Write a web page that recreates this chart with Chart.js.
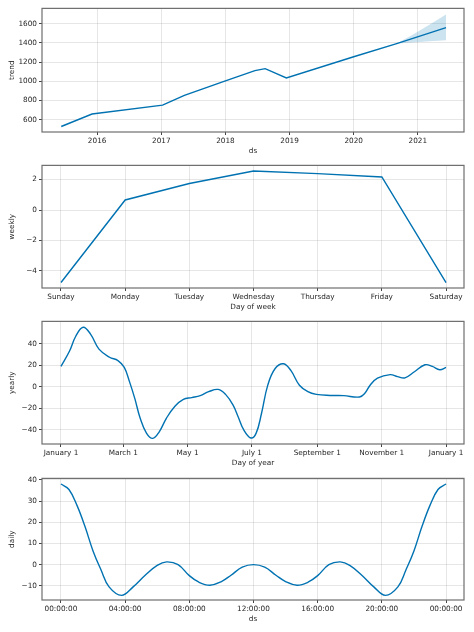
<!DOCTYPE html>
<html>
<head>
<meta charset="utf-8">
<script src="https://cdn.jsdelivr.net/npm/chart.js@4/dist/chart.umd.min.js"></script>
<style>
  html, body { margin: 0; padding: 0; background: #fff; }
  #page { position: relative; width: 474px; height: 632px; }
  canvas { position: absolute; left: 0; }
</style>
</head>
<body>
<div id="page">
  <canvas id="trend-chart" width="474" height="160" style="top:2px"></canvas>
  <canvas id="weekly-chart" width="474" height="159" style="top:159px"></canvas>
  <canvas id="yearly-chart" width="474" height="159" style="top:315px"></canvas>
  <canvas id="daily-chart" width="474" height="158" style="top:472px"></canvas>
</div>
<script>
// trend (x in fractional years)
const trendYears = [2015.44, 2015.92, 2017.02, 2017.36, 2018.0, 2018.46, 2018.62, 2018.95, 2020.0, 2020.67, 2021.44]
const trendValues = [530, 660, 752, 855, 1004, 1111, 1132, 1035, 1256, 1393, 1558]
const bandYears = [2020.67, 2020.92, 2021.18, 2021.44]
const bandUpper = [1393, 1485, 1590, 1695]
const bandLower = [1393, 1405, 1417, 1428]
const trendYearTicks = [2016, 2017, 2018, 2019, 2020, 2021]
const trendYearLabels = ['2016', '2017', '2018', '2019', '2020', '2021']
const trendTicks = [600, 800, 1000, 1200, 1400, 1600]

// weekly
const weekDays = ['Sunday', 'Monday', 'Tuesday', 'Wednesday', 'Thursday', 'Friday', 'Saturday']
const weeklyValues = [-4.76, 0.66, 1.74, 2.56, 2.39, 2.17, -4.76]
const weeklyTicks = [-4, -2, 0, 2]

// yearly (x = day of year)
const yearDays = [0, 8, 14, 21, 28, 36, 46, 54, 60, 65, 70, 75, 81, 87, 93, 100, 108, 116, 124, 132,
  140, 149, 156, 163, 168, 173, 180, 185, 190, 196, 203, 211, 218, 226, 234, 242, 255, 268, 283, 288,
  293, 300, 312, 319, 326, 335, 345, 352, 359, 365]
const yearlyValues = [19, 33, 47, 55.3, 49, 35, 27.5, 24.4, 18, 4.6, -11, -29, -43, -47.9, -42, -29, -18, -11.6, -10, -8.2,
  -4.5, -2.4, -7, -16.8, -28, -39.6, -47.5, -43, -25, 1.6, 17, 21.4, 15, 1.5, -4.5, -7, -8, -8.2, -9.4, -6,
  1.5, 8, 11.3, 9.5, 8.3, 14, 20.5, 19, 15.9, 18]
const monthTicks = [0, 59, 120, 181, 243, 304, 365]
const monthLabels = ['January 1', 'March 1', 'May 1', 'July 1', 'September 1', 'November 1', 'January 1']
const yearlyTicks = [-40, -20, 0, 20, 40]

// daily (x = hour of day)
const dailyHours = [0, 0.5, 1, 1.5, 2, 2.5, 3, 3.78, 4.5, 5.25, 6, 6.59, 7.3, 8, 8.6, 9.29, 10, 10.6, 11.3, 12,
  12.7, 13.4, 14, 14.71, 15.4, 16, 16.7, 17.41, 18, 18.75, 19.5, 20.22, 21, 21.5, 22, 22.5, 23, 23.5, 24]
const dailyValues = [38.1, 35.5, 28, 18, 6.5, -2.5, -10.5, -14.5, -10.5, -5, -0.3, 1.3, 0, -5.2, -8.3, -9.7, -8, -5, -1.2, 0,
  -1.2, -5, -8, -9.7, -8.3, -5.2, 0, 1.3, -0.3, -5, -10.5, -14.5, -10.5, -2.5, 6.5, 18, 28, 35.5, 38.1]
const hourTicks = [0, 4, 8, 12, 16, 20, 24]
const hourLabels = ['00:00:00', '04:00:00', '08:00:00', '12:00:00', '16:00:00', '20:00:00', '00:00:00']
const dailyTicks = [-10, 0, 10, 20, 30, 40]

const lineBlue = '#0072B2'
const textColor = '#262626'
const font = { family: 'DejaVu Sans', size: 7.3 }
const grid = { color: 'rgba(128,128,128,0.2)', lineWidth: 1, tickColor: '#444', tickLength: 3 }

const points = (xs, ys) => xs.map((x, i) => ({ x, y: ys[i] }))
const numLabel = v => (v < 0 ? '\u2212' + Math.abs(v) : String(v))

const framePlugin = {
  id: 'frame',
  afterDraw(chart) {
    const { ctx, chartArea: a } = chart
    ctx.save()
    ctx.strokeStyle = '#6e6e6e'
    ctx.lineWidth = 1.2
    ctx.strokeRect(a.left, a.top, a.right - a.left, a.bottom - a.top)
    ctx.restore()
  }
}

const axisX = (min, max, ticks, labels, title) => ({
  type: 'linear',
  min,
  max,
  afterBuildTicks: scale => { scale.ticks = ticks.map(value => ({ value })) },
  afterFit: scale => { scale.height = 30 },
  ticks: { font, color: textColor, padding: 2, maxRotation: 0, autoSkip: false, callback: (v, i) => labels[i] },
  grid,
  border: { display: false },
  title: { display: true, text: title, font, color: textColor, padding: { top: 0, bottom: 6.5 } }
})

const axisY = (min, max, ticks, title) => ({
  type: 'linear',
  min,
  max,
  afterBuildTicks: scale => { scale.ticks = ticks.map(value => ({ value })) },
  afterFit: scale => { scale.width = 42 },
  ticks: { font, color: textColor, padding: 2, callback: v => numLabel(v) },
  grid,
  border: { display: false },
  title: { display: true, text: title, font, color: textColor, padding: { top: 7.3, bottom: 0 } }
})

const baseOptions = (x, y) => ({
  responsive: false,
  animation: false,
  layout: { padding: { top: 5, right: 10, left: 0, bottom: 0 } },
  plugins: { legend: { display: false }, tooltip: { enabled: false } },
  elements: { point: { radius: 0 } },
  scales: { x, y }
})

const lineSet = (data, extra = {}) => ({
  data,
  borderColor: lineBlue,
  borderWidth: 1.4,
  fill: false,
  ...extra
})

new Chart(document.querySelector('#trend-chart'), {
  type: 'line',
  data: {
    datasets: [
      lineSet(points(bandYears, bandUpper), { borderWidth: 0, fill: '+1', backgroundColor: 'rgba(0,114,178,0.2)' }),
      lineSet(points(bandYears, bandLower), { borderWidth: 0 }),
      lineSet(points(trendYears, trendValues), { tension: 0 })
    ]
  },
  options: baseOptions(axisX(2015.14, 2021.72, trendYearTicks, trendYearLabels, 'ds'), axisY(473, 1759, trendTicks, 'trend')),
  plugins: [framePlugin]
})

new Chart(document.querySelector('#weekly-chart'), {
  type: 'line',
  data: { datasets: [lineSet(points([0, 1, 2, 3, 4, 5, 6], weeklyValues), { tension: 0 })] },
  options: baseOptions(axisX(-0.296, 6.28, [0, 1, 2, 3, 4, 5, 6], weekDays, 'Day of week'), axisY(-5.12, 2.93, weeklyTicks, 'weekly')),
  plugins: [framePlugin]
})

new Chart(document.querySelector('#yearly-chart'), {
  type: 'line',
  data: { datasets: [lineSet(points(yearDays, yearlyValues), { tension: 0.4 })] },
  options: baseOptions(axisX(-18, 382, monthTicks, monthLabels, 'Day of year'), axisY(-53.1, 60.8, yearlyTicks, 'yearly')),
  plugins: [framePlugin]
})

new Chart(document.querySelector('#daily-chart'), {
  type: 'line',
  data: { datasets: [lineSet(points(dailyHours, dailyValues), { tension: 0.4 })] },
  options: baseOptions(axisX(-1.18, 25.12, hourTicks, hourLabels, 'ds'), axisY(-16.7, 40.75, dailyTicks, 'daily')),
  plugins: [framePlugin]
})
</script>
</body>
</html>
